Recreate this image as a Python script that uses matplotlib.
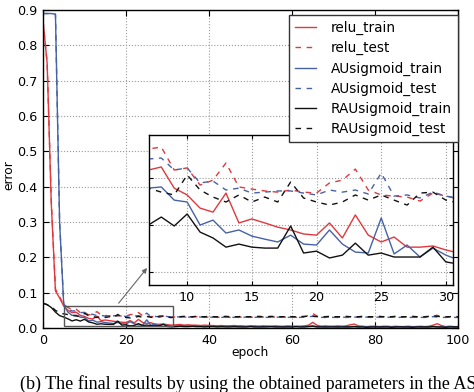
import matplotlib
matplotlib.use("Agg")
import matplotlib.pyplot as plt
from matplotlib.patches import Rectangle

epochs = list(range(0, 101))

relu_train = [0.87, 0.75, 0.35, 0.105, 0.085, 0.062, 0.05,
              0.0434, 0.0447, 0.0357, 0.0328, 0.0272, 0.0255, 0.0336, 0.0209, 0.0226, 0.0209,
              0.0191, 0.0179, 0.0162, 0.0157, 0.0209, 0.0145, 0.0243, 0.0157, 0.0128, 0.0149,
              0.0106, 0.0106, 0.0111, 0.0094, 0.0081,
              0.009, 0.010, 0.008, 0.009, 0.008, 0.008, 0.007, 0.008, 0.007, 0.007,
              0.006, 0.007, 0.006, 0.006, 0.007, 0.006, 0.006, 0.005, 0.006, 0.006,
              0.005, 0.006, 0.005, 0.005, 0.006, 0.005, 0.005, 0.006, 0.005, 0.005,
              0.005, 0.006, 0.008, 0.016, 0.008, 0.005, 0.006, 0.005, 0.005, 0.006,
              0.005, 0.006, 0.009, 0.011, 0.006, 0.005, 0.004, 0.005, 0.005, 0.004,
              0.005, 0.005, 0.004, 0.005, 0.004, 0.004, 0.005, 0.004, 0.004, 0.005,
              0.004, 0.005, 0.008, 0.012, 0.007, 0.004, 0.005, 0.004, 0.004]

relu_test = [0.87, 0.75, 0.36, 0.11, 0.088, 0.066, 0.058,
             0.0523, 0.0532, 0.0434, 0.0443, 0.0370, 0.0391, 0.0464, 0.0362, 0.0353, 0.0345,
             0.0340, 0.0349, 0.0340, 0.0336, 0.0379, 0.0391, 0.0438, 0.0349, 0.0328, 0.0323,
             0.0319, 0.0302, 0.0336, 0.0323, 0.0311,
             0.031, 0.032, 0.031, 0.030, 0.031, 0.032, 0.031, 0.030, 0.031, 0.031,
             0.030, 0.031, 0.031, 0.030, 0.031, 0.030, 0.031, 0.031, 0.030, 0.031,
             0.030, 0.031, 0.030, 0.031, 0.031, 0.030, 0.031, 0.030, 0.031, 0.030,
             0.031, 0.032, 0.035, 0.041, 0.034, 0.031, 0.030, 0.031, 0.031, 0.030,
             0.031, 0.030, 0.032, 0.034, 0.031, 0.030, 0.031, 0.030, 0.031, 0.030,
             0.031, 0.030, 0.031, 0.031, 0.030, 0.031, 0.030, 0.031, 0.030, 0.031,
             0.030, 0.032, 0.034, 0.036, 0.032, 0.030, 0.031, 0.030, 0.030]

au_train = [0.89, 0.89, 0.89, 0.888, 0.30, 0.065, 0.045,
            0.0357, 0.0362, 0.0306, 0.0298, 0.0200, 0.0221, 0.0166, 0.0179, 0.0153, 0.0140,
            0.0128, 0.0157, 0.0119, 0.0115, 0.0179, 0.0119, 0.0085, 0.0081, 0.0230, 0.0077,
            0.0115, 0.0064, 0.0102, 0.0072, 0.0051,
            0.006, 0.006, 0.007, 0.006, 0.005, 0.006, 0.005, 0.005, 0.006, 0.005,
            0.005, 0.004, 0.005, 0.005, 0.004, 0.005, 0.004, 0.004, 0.005, 0.004,
            0.004, 0.004, 0.005, 0.004, 0.004, 0.004, 0.003, 0.004, 0.004, 0.004,
            0.004, 0.004, 0.005, 0.006, 0.004, 0.004, 0.003, 0.004, 0.004, 0.003,
            0.004, 0.003, 0.004, 0.004, 0.003, 0.004, 0.003, 0.003, 0.004, 0.003,
            0.003, 0.004, 0.003, 0.003, 0.004, 0.003, 0.003, 0.003, 0.004, 0.003,
            0.003, 0.003, 0.004, 0.003, 0.003, 0.003, 0.004, 0.003, 0.003]

au_test = [0.89, 0.89, 0.89, 0.888, 0.30, 0.068, 0.055,
           0.0481, 0.0485, 0.0434, 0.0443, 0.0379, 0.0387, 0.0349, 0.0357, 0.0336, 0.0340,
           0.0345, 0.0345, 0.0336, 0.0328, 0.0349, 0.0340, 0.0349, 0.0332, 0.0421, 0.0323,
           0.0328, 0.0315, 0.0340, 0.0323, 0.0315,
           0.032, 0.031, 0.032, 0.031, 0.031, 0.032, 0.031, 0.031, 0.030, 0.031,
           0.031, 0.030, 0.031, 0.031, 0.030, 0.031, 0.030, 0.031, 0.031, 0.030,
           0.031, 0.030, 0.030, 0.031, 0.030, 0.031, 0.030, 0.030, 0.031, 0.030,
           0.030, 0.031, 0.032, 0.033, 0.031, 0.030, 0.030, 0.031, 0.030, 0.030,
           0.031, 0.030, 0.030, 0.031, 0.030, 0.030, 0.031, 0.030, 0.030, 0.031,
           0.030, 0.030, 0.031, 0.030, 0.030, 0.031, 0.030, 0.030, 0.031, 0.030,
           0.030, 0.031, 0.032, 0.031, 0.030, 0.030, 0.031, 0.030, 0.030]

rau_train = [0.07, 0.066, 0.058, 0.045, 0.035, 0.031, 0.026,
             0.0200, 0.0234, 0.0196, 0.0247, 0.0170, 0.0145, 0.0106, 0.0119, 0.0106, 0.0102,
             0.0102, 0.0196, 0.0081, 0.0089, 0.0060, 0.0072, 0.0123, 0.0072, 0.0081, 0.0064,
             0.0064, 0.0064, 0.0106, 0.0043, 0.0034,
             0.004, 0.005, 0.004, 0.004, 0.005, 0.004, 0.004, 0.003, 0.004, 0.004,
             0.003, 0.004, 0.003, 0.003, 0.004, 0.003, 0.003, 0.003, 0.004, 0.003,
             0.003, 0.003, 0.003, 0.004, 0.003, 0.003, 0.003, 0.003, 0.003, 0.004,
             0.003, 0.003, 0.004, 0.005, 0.003, 0.003, 0.003, 0.003, 0.003, 0.003,
             0.003, 0.003, 0.003, 0.004, 0.003, 0.003, 0.002, 0.003, 0.003, 0.003,
             0.003, 0.003, 0.002, 0.003, 0.003, 0.003, 0.003, 0.002, 0.003, 0.003,
             0.003, 0.003, 0.004, 0.003, 0.003, 0.002, 0.003, 0.003, 0.003]

rau_test = [0.07, 0.066, 0.06, 0.05, 0.043, 0.04, 0.038,
            0.0357, 0.0340, 0.0328, 0.0413, 0.0349, 0.0319, 0.0298, 0.0328, 0.0298, 0.0319,
            0.0298, 0.0383, 0.0315, 0.0298, 0.0285, 0.0298, 0.0328, 0.0306, 0.0328, 0.0306,
            0.0285, 0.0336, 0.0340, 0.0306, 0.0294,
            0.033, 0.032, 0.033, 0.032, 0.032, 0.033, 0.032, 0.032, 0.033, 0.032,
            0.032, 0.032, 0.033, 0.032, 0.032, 0.032, 0.033, 0.032, 0.032, 0.032,
            0.033, 0.032, 0.032, 0.033, 0.032, 0.032, 0.032, 0.033, 0.032, 0.032,
            0.032, 0.033, 0.033, 0.034, 0.032, 0.032, 0.032, 0.033, 0.032, 0.032,
            0.032, 0.033, 0.032, 0.032, 0.032, 0.033, 0.032, 0.032, 0.032, 0.033,
            0.032, 0.032, 0.032, 0.033, 0.032, 0.032, 0.032, 0.033, 0.032, 0.032,
            0.032, 0.033, 0.034, 0.033, 0.032, 0.032, 0.032, 0.033, 0.032]

series = [
    ("relu_train", relu_train, "#e0383c", "-"),
    ("relu_test", relu_test, "#e0383c", (0, (4, 4))),
    ("AUsigmoid_train", au_train, "#4662a6", "-"),
    ("AUsigmoid_test", au_test, "#4662a6", (0, (4, 4))),
    ("RAUsigmoid_train", rau_train, "#111111", "-"),
    ("RAUsigmoid_test", rau_test, "#111111", (0, (4, 4))),
]

W, H = 474, 392
fig = plt.figure(figsize=(W / 100, H / 100), dpi=100)

ax = fig.add_axes([43 / W, 1 - 328 / H, 415 / W, 318 / H])
for name, vals, col, ls in series:
    ax.plot(epochs, vals, color=col, linestyle=ls, linewidth=1.0, label=name)
ax.set_xlim(0, 100)
ax.set_ylim(0, 0.9)
ax.set_xticks([0, 20, 40, 60, 80, 100])
ax.set_yticks([0.0, 0.1, 0.2, 0.3, 0.4, 0.5, 0.6, 0.7, 0.8, 0.9])
ax.grid(True, linestyle=":", color="#999999", linewidth=0.8)
ax.tick_params(direction="in", top=True, right=True, length=4, width=0.8, labelsize=9.2, pad=4)
for sp in ax.spines.values():
    sp.set_linewidth(1.0)
ax.set_xlabel("epoch", fontsize=8.8)
ax.xaxis.set_label_coords(0.5, -0.058)
ax.set_ylabel("error", fontsize=8.8)
ax.yaxis.set_label_coords(-0.066, 0.48)

# zoom box and arrow
ax.add_patch(Rectangle((5, 0.006), 26.3, 0.057, fill=False, edgecolor="#555555", linewidth=1.0, zorder=3))
ax.annotate("", xy=(25.5, 0.176), xytext=(17.8, 0.064),
            arrowprops=dict(arrowstyle="-|>", color="#666666", lw=0.8, mutation_scale=7))

ins = fig.add_axes([149 / W, 1 - 285 / H, 304 / W, 150 / H])
for name, vals, col, ls in series:
    ins.plot(epochs, vals, color=col, linestyle=ls, linewidth=1.0)
ins.set_xlim(7.05, 30.55)
ins.set_ylim(-0.0055, 0.0583)
ins.set_xticks([10, 15, 20, 25, 30])
ins.set_yticks([0.0, 0.02, 0.04])
ins.set_yticklabels([])
ins.grid(True, linestyle=":", color="#999999", linewidth=0.8)
ins.tick_params(direction="in", top=True, right=True, length=3, width=0.8, labelsize=9.2, pad=4)
for sp in ins.spines.values():
    sp.set_linewidth(1.0)

# legend on the figure so it sits above the inset
handles, labels = ax.get_legend_handles_labels()
leg = fig.legend(handles, labels, loc="upper right", bbox_to_anchor=(458 / W, 1 - 15 / H),
                 bbox_transform=fig.transFigure, borderaxespad=0,
                 fontsize=9.8, handlelength=1.6, handletextpad=1.05, fancybox=False,
                 framealpha=1, edgecolor="#333333", borderpad=0.45, labelspacing=0.44)
leg.get_frame().set_linewidth(1.0)

fig.text(20 / W, 1 - 389 / H, "(b) The final results by using the obtained parameters in the AS",
         fontsize=13, family="Liberation Serif", va="baseline", ha="left")

fig.savefig("out.png", dpi=100)
